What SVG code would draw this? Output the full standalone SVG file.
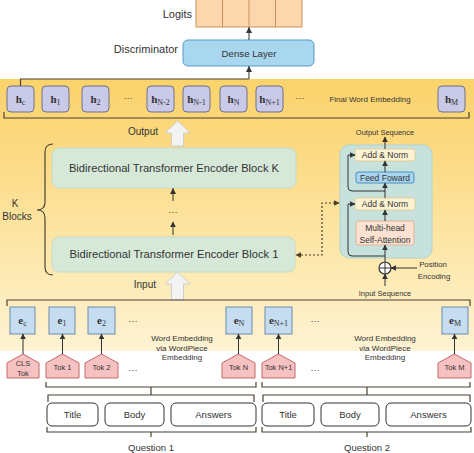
<svg xmlns="http://www.w3.org/2000/svg" width="474" height="453" viewBox="0 0 474 453">
<defs>
<linearGradient id="bg" x1="0" y1="0" x2="0" y2="1">
<stop offset="0" stop-color="#fbd36b"/>
<stop offset="0.3" stop-color="#fcdb86"/>
<stop offset="0.75" stop-color="#fdebb7"/>
<stop offset="1" stop-color="#fdf2d3"/>
</linearGradient>
<marker id="ah" viewBox="0 0 10 10" refX="9" refY="5" markerWidth="6" markerHeight="6" orient="auto-start-reverse" markerUnits="userSpaceOnUse"><path d="M0,0 L10,5 L0,10 z" fill="#333"/></marker>
<marker id="ahd" viewBox="0 0 10 10" refX="9" refY="5" markerWidth="6" markerHeight="6" orient="auto-start-reverse" markerUnits="userSpaceOnUse"><path d="M0,0 L10,5 L0,10 z" fill="#4a3f2a"/></marker>
<style>
.t{font-family:"Liberation Sans",Arial,sans-serif;fill:#333}
.sym{font-family:"Liberation Serif","Times New Roman",serif;font-weight:bold;fill:#333;font-size:11px}
.sub{font-size:8px;font-weight:normal}
.hb{fill:#c9c9e8;stroke:#6f6f8c;stroke-width:1}
.eb{fill:#c6dcf1;stroke:#6e8cae;stroke-width:1}
.tok{fill:#f6c1c1;stroke:#c46a6a;stroke-width:1}
.br{fill:none;stroke:#4a4333;stroke-width:1.2}
.ln{fill:none;stroke:#333;stroke-width:1}
.big{fill:#f3f3f3;stroke:#cfcfcf;stroke-width:1}
.enc{fill:#d6e9d9;stroke:#c3dcc8;stroke-width:1}
.an{fill:#fdf3d2;stroke:#e0cf9c;stroke-width:1}
.qb{fill:#fff;stroke:#333;stroke-width:1}
</style>
</defs>
<rect x="0" y="79" width="474" height="272" fill="url(#bg)"/>

<g id="logits">
<rect x="196" y="-1" width="106" height="28" fill="#fcd6ac" stroke="#c8935e"/>
<line x1="222.5" y1="-1" x2="222.5" y2="27" stroke="#c8935e"/>
<line x1="249" y1="-1" x2="249" y2="27" stroke="#c8935e"/>
<line x1="275.5" y1="-1" x2="275.5" y2="27" stroke="#c8935e"/>
<text class="t" x="192" y="18" font-size="11" text-anchor="end">Logits</text>
</g>
<g id="dense">
<rect x="183" y="40" width="131" height="26" rx="5" fill="#a9d7ef" stroke="#5599c8"/>
<text class="t" x="249" y="57" font-size="9.7" text-anchor="middle">Dense Layer</text>
<text class="t" x="178" y="53" font-size="11" text-anchor="end">Discriminator</text>
</g>

<g id="final-embedding">
<rect class="hb" x="7" y="86" width="27" height="26" rx="4"/>
<text class="sym" x="20.5" y="103" text-anchor="middle">h<tspan class="sub" dy="2">c</tspan></text>
<rect class="hb" x="42" y="86" width="27" height="26" rx="4"/>
<text class="sym" x="55.5" y="103" text-anchor="middle">h<tspan class="sub" dy="2">1</tspan></text>
<rect class="hb" x="82" y="86" width="27" height="26" rx="4"/>
<text class="sym" x="95.5" y="103" text-anchor="middle">h<tspan class="sub" dy="2">2</tspan></text>
<text class="t" x="128" y="101" font-size="9" text-anchor="middle">···</text>
<rect class="hb" x="147" y="86" width="27" height="26" rx="4"/>
<text class="sym" x="160.5" y="103" text-anchor="middle">h<tspan class="sub" dy="2">N-2</tspan></text>
<rect class="hb" x="183" y="86" width="27" height="26" rx="4"/>
<text class="sym" x="196.5" y="103" text-anchor="middle">h<tspan class="sub" dy="2">N-1</tspan></text>
<rect class="hb" x="220" y="86" width="27" height="26" rx="4"/>
<text class="sym" x="233.5" y="103" text-anchor="middle">h<tspan class="sub" dy="2">N</tspan></text>
<rect class="hb" x="256" y="86" width="27" height="26" rx="4"/>
<text class="sym" x="269.5" y="103" text-anchor="middle">h<tspan class="sub" dy="2">N+1</tspan></text>
<text class="t" x="300" y="101" font-size="9" text-anchor="middle">···</text>
<text class="t" x="370" y="102" font-size="8" text-anchor="middle">Final Word Embedding</text>
<rect class="hb" x="438" y="86" width="27" height="26" rx="4"/>
<text class="sym" x="451.5" y="103" text-anchor="middle">h<tspan class="sub" dy="2">M</tspan></text>
</g>

<g id="encoder">
<rect class="enc" x="52" y="148" width="244" height="40" rx="7"/>
<text class="t" x="174" y="172" font-size="11.2" text-anchor="middle">Bidirectional Transformer Encoder Block K</text>
<rect class="enc" x="52" y="237" width="243" height="35" rx="7"/>
<text class="t" x="174" y="258" font-size="11.2" text-anchor="middle">Bidirectional Transformer Encoder Block 1</text>
<text class="t" x="173" y="215" font-size="9" text-anchor="middle">···</text>
<path class="br" d="M53,144 Q45,144 45,152 V202 Q45,210 37,210 Q45,210 45,218 V267 Q45,275 53,275"/>
<text class="t" x="15" y="207" font-size="10" text-anchor="middle">K</text>
<text class="t" x="17" y="220" font-size="10" text-anchor="middle">Blocks</text>
<polygon class="big" points="177.5,121 190,133 183.5,133 183.5,146 171.5,146 171.5,133 165,133"/>
<text class="t" x="158" y="135" font-size="10" text-anchor="end">Output</text>
<polygon class="big" points="177.5,272 190,284 183.5,284 183.5,300 171.5,300 171.5,284 165,284"/>
<text class="t" x="156" y="288" font-size="10" text-anchor="end">Input</text>
</g>

<g id="transformer">
<rect x="340" y="145" width="92" height="113" rx="9" fill="#c7e1dc" stroke="#afd3d1"/>
<rect class="an" x="355" y="149" width="60" height="12" rx="2"/>
<text class="t" x="385" y="158" font-size="8.5" text-anchor="middle">Add &amp; Norm</text>
<rect x="356" y="172" width="58" height="11" rx="2" fill="#a9d5f1" stroke="#4b8fc2"/>
<text class="t" x="385" y="180.5" font-size="8.5" text-anchor="middle">Feed Foward</text>
<rect class="an" x="355" y="198" width="60" height="12" rx="2"/>
<text class="t" x="385" y="207" font-size="8.5" text-anchor="middle">Add &amp; Norm</text>
<rect x="356" y="221" width="58" height="24" rx="2" fill="#fde2d2" stroke="#e2b393"/>
<text class="t" x="385" y="231" font-size="8.5" text-anchor="middle">Multi-head</text>
<text class="t" x="385" y="243" font-size="8.5" text-anchor="middle">Self-Attention</text>
<circle cx="385" cy="268" r="6" fill="#fff" stroke="#333" stroke-width="1.2"/>
<path class="ln" d="M379,268 H391 M385,262 V274"/>
<text class="t" x="385" y="135" font-size="7.5" text-anchor="middle">Output Sequence</text>
<text class="t" x="433" y="267" font-size="7.8" text-anchor="middle">Position</text>
<text class="t" x="434" y="279" font-size="7.8" text-anchor="middle">Encoding</text>
<text class="t" x="385" y="296" font-size="7.5" text-anchor="middle">Input Sequence</text>
</g>

<g id="word-embedding">
<rect class="eb" x="10" y="307" width="25" height="27"/>
<text class="sym" x="22.5" y="324" text-anchor="middle">e<tspan class="sub" dy="2">c</tspan></text>
<rect class="eb" x="49" y="307" width="26" height="27"/>
<text class="sym" x="62" y="324" text-anchor="middle">e<tspan class="sub" dy="2">1</tspan></text>
<rect class="eb" x="88" y="307" width="27" height="27"/>
<text class="sym" x="101.5" y="324" text-anchor="middle">e<tspan class="sub" dy="2">2</tspan></text>
<text class="t" x="133" y="324" font-size="9" text-anchor="middle">···</text>
<rect class="eb" x="226" y="307" width="26" height="27"/>
<text class="sym" x="239" y="324" text-anchor="middle">e<tspan class="sub" dy="2">N</tspan></text>
<rect class="eb" x="265" y="307" width="27" height="27"/>
<text class="sym" x="278.5" y="324" text-anchor="middle">e<tspan class="sub" dy="2">N+1</tspan></text>
<text class="t" x="315" y="324" font-size="9" text-anchor="middle">···</text>
<rect class="eb" x="442" y="307" width="26" height="27"/>
<text class="sym" x="455" y="324" text-anchor="middle">e<tspan class="sub" dy="2">M</tspan></text>
<text class="t" x="182" y="341" font-size="8" text-anchor="middle">Word Embedding</text>
<text class="t" x="182" y="351" font-size="8" text-anchor="middle">via WordPiece</text>
<text class="t" x="182" y="360" font-size="8" text-anchor="middle">Embedding</text>
<text class="t" x="385" y="341" font-size="8" text-anchor="middle">Word Embedding</text>
<text class="t" x="385" y="351" font-size="8" text-anchor="middle">via WordPiece</text>
<text class="t" x="385" y="360" font-size="8" text-anchor="middle">Embedding</text>
</g>

<g id="tokens">
<path class="tok" d="M7,363 L23,354 L39,363 V378 H7 Z"/>
<text class="t" x="23" y="366" font-size="7.5" text-anchor="middle">CLS</text>
<text class="t" x="23" y="376" font-size="7.5" text-anchor="middle">Tok</text>
<path class="tok" d="M46,363 L62.5,354 L79,363 V378 H46 Z"/>
<text class="t" x="62.5" y="370" font-size="7.5" text-anchor="middle">Tok 1</text>
<path class="tok" d="M85,363 L101.5,354 L118,363 V378 H85 Z"/>
<text class="t" x="101.5" y="370" font-size="7.5" text-anchor="middle">Tok 2</text>
<text class="t" x="133" y="373" font-size="9" text-anchor="middle">···</text>
<path class="tok" d="M222,363 L238.5,354 L255,363 V378 H222 Z"/>
<text class="t" x="238.5" y="370" font-size="7.5" text-anchor="middle">Tok N</text>
<path class="tok" d="M262,363 L278.5,354 L295,363 V378 H262 Z"/>
<text class="t" x="278.5" y="370" font-size="7.5" text-anchor="middle">Tok N+1</text>
<text class="t" x="315" y="373" font-size="9" text-anchor="middle">···</text>
<path class="tok" d="M438,363 L454.5,354 L471,363 V378 H438 Z"/>
<text class="t" x="454.5" y="370" font-size="7.5" text-anchor="middle">Tok M</text>
</g>

<g id="questions">
<rect class="qb" x="47" y="403" width="51" height="23" rx="5"/>
<text class="t" x="72.5" y="418" font-size="9.5" text-anchor="middle">Title</text>
<rect class="qb" x="105" y="403" width="59" height="23" rx="5"/>
<text class="t" x="134.5" y="418" font-size="9.5" text-anchor="middle">Body</text>
<rect class="qb" x="171" y="403" width="85" height="23" rx="5"/>
<text class="t" x="213.5" y="418" font-size="9.5" text-anchor="middle">Answers</text>
<text class="t" x="151" y="451" font-size="9.5" text-anchor="middle">Question 1</text>
<rect class="qb" x="262" y="403" width="52" height="23" rx="5"/>
<text class="t" x="288" y="418" font-size="9.5" text-anchor="middle">Title</text>
<rect class="qb" x="321" y="403" width="58" height="23" rx="5"/>
<text class="t" x="350" y="418" font-size="9.5" text-anchor="middle">Body</text>
<rect class="qb" x="386" y="403" width="85" height="23" rx="5"/>
<text class="t" x="428.5" y="418" font-size="9.5" text-anchor="middle">Answers</text>
<text class="t" x="367" y="451" font-size="9.5" text-anchor="middle">Question 2</text>
</g>

<g id="connectors">
<line class="ln" x1="249" y1="40" x2="249" y2="27.5" marker-end="url(#ah)"/>
<path class="br" d="M20.5,86 V79 H249"/>
<line class="ln" x1="249" y1="79" x2="249" y2="66.5" marker-end="url(#ah)"/>
<path class="br" d="M4,112 V118 H469 V112"/>
<line class="ln" x1="173" y1="201" x2="173" y2="188.5" marker-end="url(#ah)"/>
<line class="ln" x1="173" y1="235" x2="173" y2="222" marker-end="url(#ah)"/>
<path d="M339,203 H322 V255 H296" fill="none" stroke="#4a3f2a" stroke-width="1.2" stroke-dasharray="2,2" marker-start="url(#ahd)" marker-end="url(#ahd)"/>
<line class="ln" x1="385" y1="149" x2="385" y2="137" marker-end="url(#ah)"/>
<line class="ln" x1="385" y1="172" x2="385" y2="161" marker-end="url(#ah)"/>
<line class="ln" x1="385" y1="198" x2="385" y2="183" marker-end="url(#ah)"/>
<line class="ln" x1="385" y1="221" x2="385" y2="210" marker-end="url(#ah)"/>
<line class="ln" x1="385" y1="262" x2="385" y2="245" marker-end="url(#ah)"/>
<line class="ln" x1="385" y1="286" x2="385" y2="274" marker-end="url(#ah)"/>
<line class="ln" x1="417" y1="268" x2="391" y2="268" marker-end="url(#ah)"/>
<path class="ln" d="M385,256 H352 Q348,256 348,252 V204 H355" marker-end="url(#ah)"/>
<path class="ln" d="M385,191 H352 Q348,191 348,187 V155 H355" marker-end="url(#ah)"/>
<path class="br" d="M7,306 V300 H470 V306"/>
<line class="ln" x1="23" y1="354" x2="23" y2="334" marker-end="url(#ah)"/>
<line class="ln" x1="62.5" y1="354" x2="62.5" y2="334" marker-end="url(#ah)"/>
<line class="ln" x1="101.5" y1="354" x2="101.5" y2="334" marker-end="url(#ah)"/>
<line class="ln" x1="238.5" y1="354" x2="238.5" y2="334" marker-end="url(#ah)"/>
<line class="ln" x1="278.5" y1="354" x2="278.5" y2="334" marker-end="url(#ah)"/>
<line class="ln" x1="454.5" y1="354" x2="454.5" y2="334" marker-end="url(#ah)"/>
<path class="br" d="M46,382 V387 H256 V382 M151,387 V395 M48,402 V395 H254 V402"/>
<path class="br" d="M262,382 V387 H470 V382 M367,387 V395 M263,402 V395 H470 V402"/>
<path class="br" d="M47,427 V432 H256 V427 M151,432 V437"/>
<path class="br" d="M262,427 V432 H471 V427 M367,432 V437"/>
</g>
</svg>
